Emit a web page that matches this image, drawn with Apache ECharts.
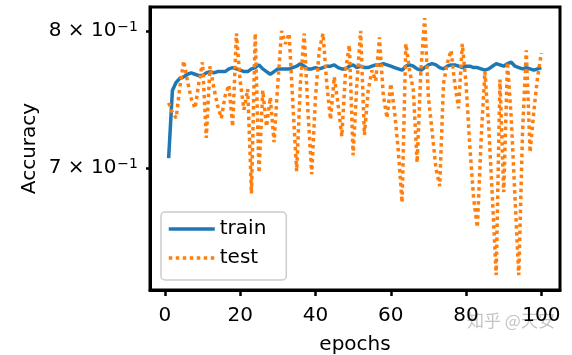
<!DOCTYPE html>
<html>
<head>
<meta charset="utf-8">
<script src="https://cdn.jsdelivr.net/npm/echarts@6/dist/echarts.min.js"></script>
<style>html,body{margin:0;padding:0;background:#fff}#c{width:572px;height:355px}</style>
</head>
<body>
<div id="c"></div>
<script>
const epochs = Array.from({length: 100}, (_, i) => i + 1);
const trainAcc = [
0.707,0.755,0.761,0.764,0.765,0.767,0.768,0.767,0.766,0.766,
0.768,0.769,0.768,0.769,0.769,0.769,0.771,0.772,0.771,0.770,
0.769,0.769,0.771,0.772,0.774,0.771,0.769,0.767,0.769,0.771,
0.771,0.771,0.771,0.772,0.773,0.775,0.773,0.771,0.771,0.772,
0.771,0.772,0.773,0.773,0.774,0.772,0.771,0.771,0.773,0.774,
0.772,0.773,0.772,0.772,0.773,0.774,0.774,0.775,0.774,0.773,
0.772,0.771,0.770,0.773,0.774,0.773,0.771,0.770,0.772,0.774,
0.775,0.774,0.772,0.771,0.773,0.774,0.774,0.773,0.772,0.773,
0.773,0.772,0.772,0.771,0.770,0.771,0.773,0.775,0.774,0.773,
0.775,0.776,0.773,0.772,0.771,0.772,0.771,0.770,0.771,0.772];
const testAcc = [
0.746,0.739,0.735,0.758,0.777,0.762,0.749,0.742,0.760,0.776,
0.721,0.773,0.757,0.744,0.735,0.751,0.759,0.729,0.798,0.762,
0.741,0.756,0.683,0.798,0.697,0.755,0.729,0.750,0.718,0.760,
0.800,0.790,0.798,0.745,0.698,0.760,0.798,0.740,0.696,0.750,
0.785,0.798,0.760,0.734,0.765,0.745,0.722,0.770,0.789,0.709,
0.760,0.800,0.723,0.755,0.770,0.762,0.795,0.752,0.735,0.760,
0.740,0.712,0.677,0.790,0.770,0.755,0.704,0.770,0.810,0.750,
0.725,0.700,0.688,0.760,0.775,0.785,0.760,0.742,0.790,0.760,
0.715,0.680,0.661,0.720,0.769,0.730,0.680,0.631,0.763,0.684,
0.776,0.735,0.680,0.631,0.725,0.785,0.711,0.740,0.765,0.783];
const xTicks = [0, 20, 40, 60, 80, 100];
const yTicks = [0.7, 0.8];
const yTickLabels = {'0.7': '7', '0.8': '8'};

const font = 'DejaVu Sans';
const chart = echarts.init(document.getElementById('c'), null, {renderer: 'canvas'});

function yLabel(v) {
  let x = v < 0 ? Math.pow(10, v) : v;
  const key = (Math.round(x * 10) / 10).toFixed(1);
  const m = yTickLabels[key] || key;
  return '{m|' + m + ' × 10}{s|−1}';
}

chart.setOption({
  animation: false,
  backgroundColor: '#fff',
  grid: {left: 150, right: 12, top: 7, bottom: 65, show: true, borderColor: '#000', borderWidth: 3,
         backgroundColor: 'transparent', containLabel: false, outerBoundsMode: 'none'},
  xAxis: {
    type: 'value', min: -3.95, max: 104.95,
    name: 'epochs', nameLocation: 'middle', nameGap: 45, nameMoveOverlap: false,
    nameTextStyle: {fontFamily: font, fontSize: 20, color: '#000'},
    axisLine: {show: true, onZero: false, lineStyle: {color: '#000', width: 3}},
    splitLine: {show: false},
    axisTick: {show: true, length: 6, lineStyle: {color: '#000', width: 2.5}, customValues: xTicks},
    axisLabel: {customValues: xTicks, fontFamily: font, fontSize: 20, color: '#000', margin: 16}
  },
  yAxis: {
    type: 'log', logBase: 10, min: 0.6219, max: 0.8188,
    name: 'Accuracy', nameLocation: 'middle', nameGap: 110, nameRotate: 90, nameMoveOverlap: false,
    nameTextStyle: {fontFamily: font, fontSize: 20, color: '#000'},
    axisLine: {show: true, onZero: false, lineStyle: {color: '#000', width: 3}},
    splitLine: {show: false},
    minorTick: {show: false},
    axisTick: {show: true, length: 4, lineStyle: {color: '#000', width: 2.5}, customValues: yTicks},
    axisLabel: {
      customValues: yTicks, margin: 12, formatter: yLabel,
      rich: {
        m: {fontFamily: font, fontSize: 20, color: '#000', lineHeight: 22},
        s: {fontFamily: font, fontSize: 14, color: '#000', verticalAlign: 'top', lineHeight: 14, padding: [0, 0, 0, 1]}
      }
    }
  },
  legend: {
    show: true, orient: 'vertical', left: 161, top: 212,
    padding: [7, 20, 12, 6], itemGap: 9, itemWidth: 46, itemHeight: 20,
    backgroundColor: 'rgba(255,255,255,0.8)', borderColor: '#cccccc', borderWidth: 1.5, borderRadius: 4,
    itemTextGap: 14,
    itemStyle: {opacity: 0, color: 'transparent', borderWidth: 0},
    lineStyle: {width: 3.5},
    textStyle: {fontFamily: font, fontSize: 20, color: '#000'},
    data: ['train', 'test']
  },
  series: [
    {name: 'train', type: 'line', data: epochs.map((e, i) => [e, trainAcc[i]]), showSymbol: false, symbol: 'none',
     lineStyle: {color: '#1f77b4', width: 3.5}, itemStyle: {color: '#1f77b4'}},
    {name: 'test', type: 'line', data: epochs.map((e, i) => [e, testAcc[i]]), showSymbol: false, symbol: 'none',
     lineStyle: {color: '#ff7f0e', width: 3.5, type: [3.5, 3.5]}, itemStyle: {color: '#ff7f0e'}}
  ],
  graphic: [{
    type: 'text', left: 467, top: 312,
    style: {text: '知乎 @天安', fontFamily: 'Noto Sans CJK SC', fontSize: 17, fill: 'rgba(190,190,190,0.9)'}
  }]
});
</script>
</body>
</html>
